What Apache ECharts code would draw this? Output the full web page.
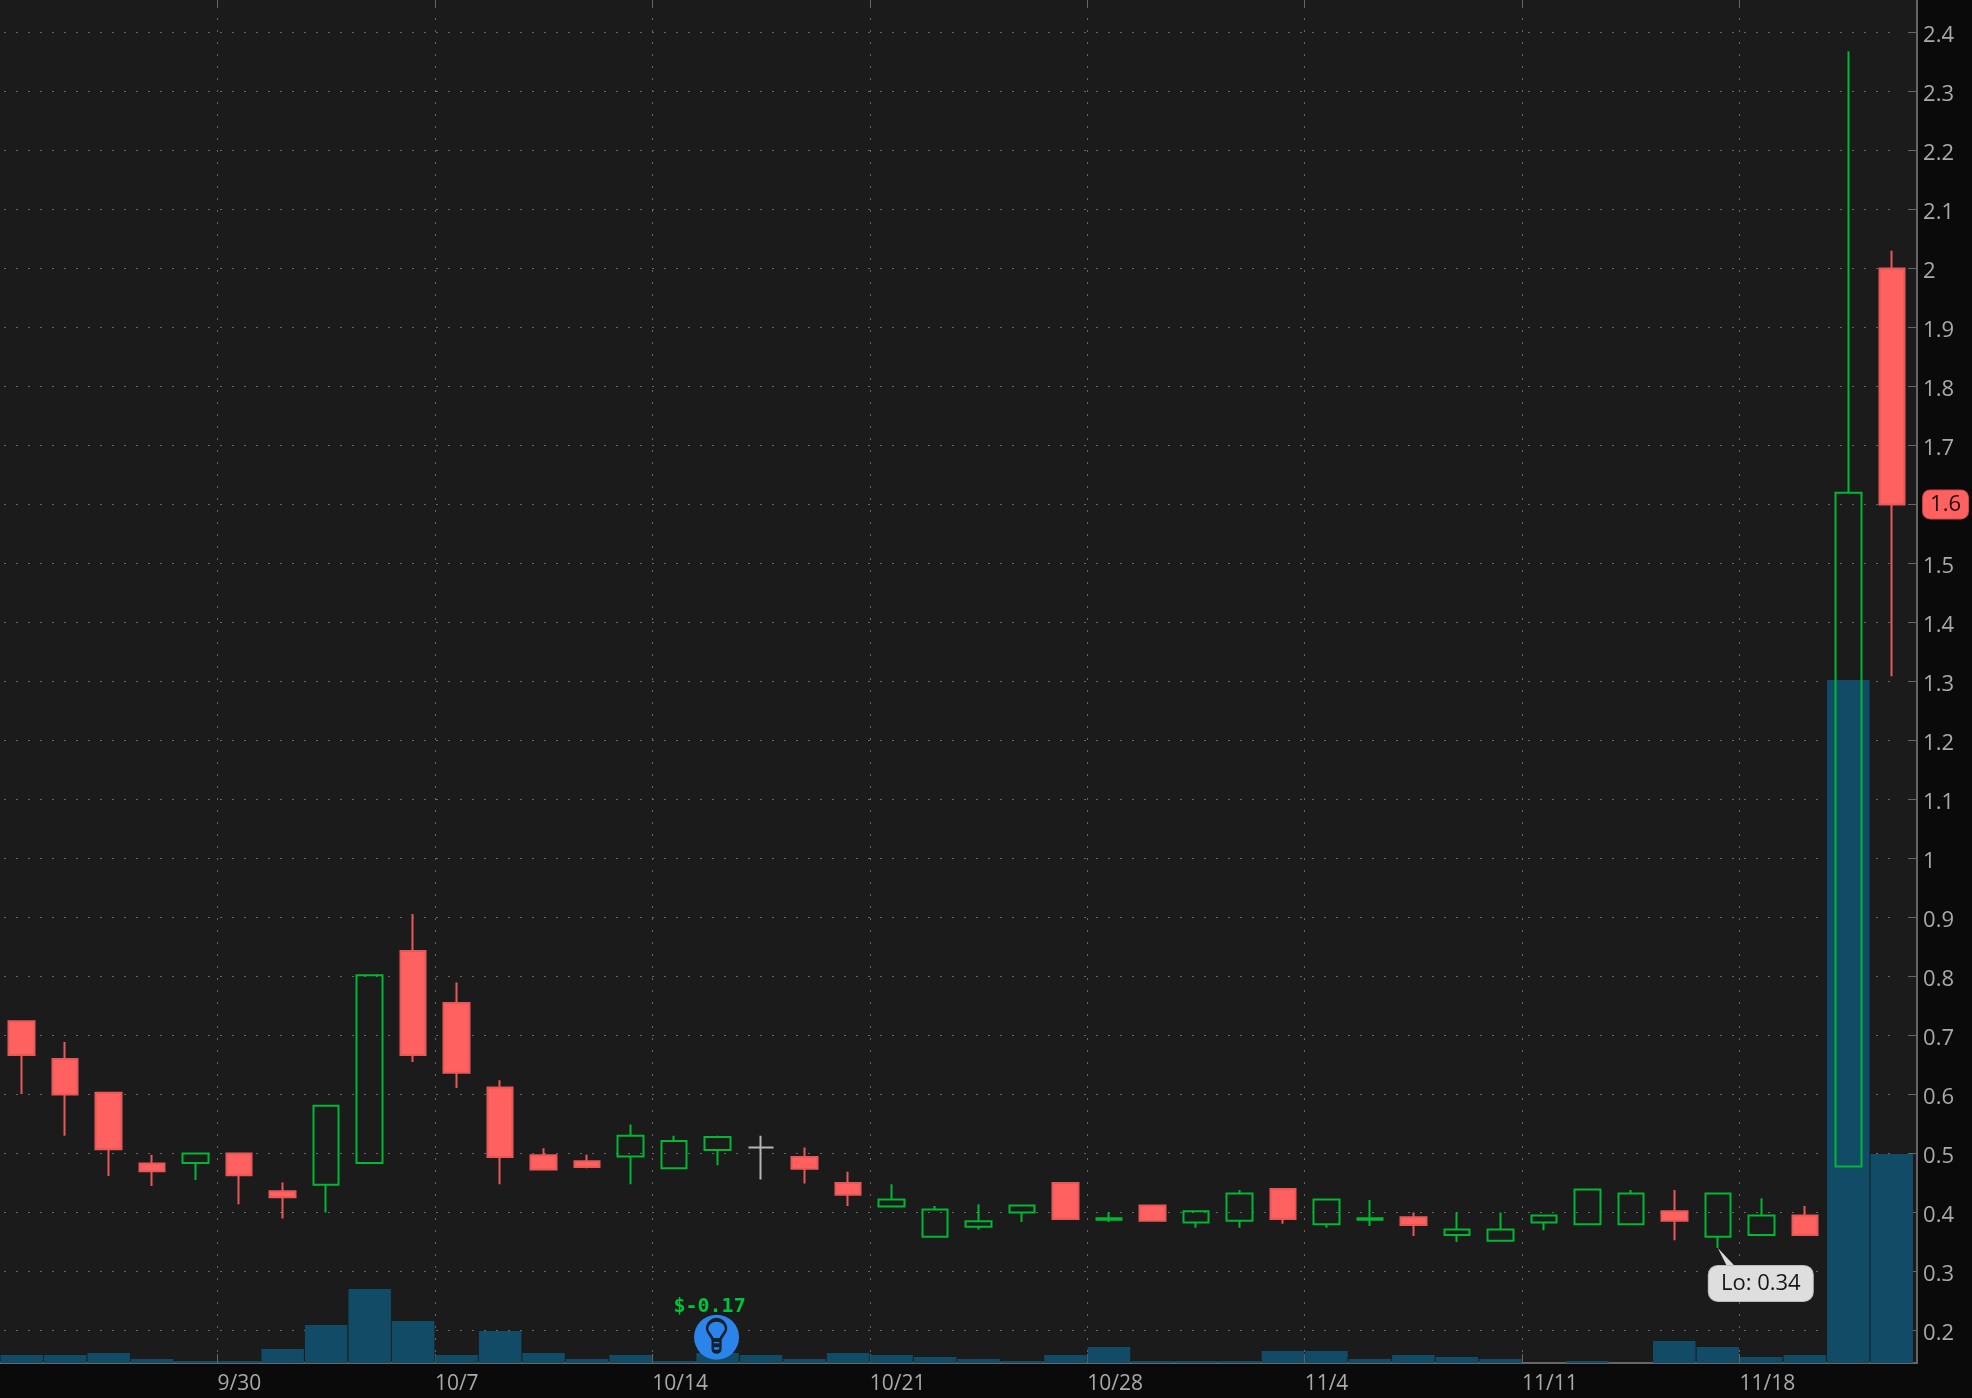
<!DOCTYPE html>
<html>
<head>
<meta charset="utf-8">
<style>html,body{margin:0;padding:0;background:#0a0a0a}#c{width:1972px;height:1398px}</style>
<script src="https://cdn.jsdelivr.net/npm/echarts@6/dist/echarts.min.js"></script>
</head>
<body>
<div id="c"></div>
<script>
const dates = ['9/23','9/24','9/25','9/26','9/27','9/30','10/1','10/2','10/3','10/4','10/7','10/8','10/9','10/10','10/11','10/14','10/15','10/16','10/17','10/18','10/21','10/22','10/23','10/24','10/25','10/28','10/29','10/30','10/31','11/1','11/4','11/5','11/6','11/7','11/8','11/11','11/12','11/13','11/14','11/15','11/18','11/19','11/20','11/21'];
const opens  = [.724,.66,.603,.483,.484,.50,.436,.447,.484,.843,.755,.612,.497,.487,.495,.475,.506,.51,.494,.45,.41,.359,.376,.40,.45,.3877,.412,.383,.386,.44,.38,.3877,.392,.362,.352,.383,.38,.38,.402,.359,.362,.395,.478,2.0];
const closes = [.667,.60,.507,.47,.50,.463,.426,.581,.802,.667,.637,.494,.473,.477,.53,.521,.528,.51,.474,.43,.422,.405,.385,.412,.389,.3903,.386,.402,.432,.389,.422,.3903,.379,.371,.371,.395,.439,.432,.386,.432,.395,.362,1.62,1.6];
const lows   = [.601,.53,.462,.445,.455,.414,.39,.40,.484,.655,.611,.448,.473,.475,.448,.475,.48,.456,.449,.411,.41,.359,.371,.384,.389,.384,.386,.374,.374,.381,.374,.377,.36,.35,.352,.37,.38,.38,.353,.34,.362,.362,.478,1.309];
const highs  = [.724,.689,.603,.498,.50,.50,.451,.581,.802,.906,.79,.624,.509,.498,.549,.53,.53,.53,.51,.469,.448,.411,.414,.412,.45,.40,.412,.402,.438,.44,.422,.421,.40,.40,.40,.395,.439,.438,.438,.432,.424,.411,2.368,2.03];
const volumes = [8,8,10,4,2,2,14,38,74,42,8,32,10,4,8,2,10,8,4,10,8,6,4,2,8,16,2,2,2,12,12,4,8,6,4,0,2,0,22,16,6,8,683,209];
const priceTicks = [0.2,0.3,0.4,0.5,0.6,0.7,0.8,0.9,1,1.1,1.2,1.3,1.4,1.5,1.6,1.7,1.8,1.9,2,2.1,2.2,2.3,2.4];
const lastPrice = 1.6;
const lowNote = {date:'11/15', value:0.34, text:'Lo: 0.34'};
const earningsNote = {date:'10/15', value:0.1886, text:'$-0.17'};

const priceMin = 0.1449, priceMax = 2.4550, volMax = 1363;
const candleData = dates.map((d,i)=>[opens[i],closes[i],lows[i],highs[i]]);
const edgeCats = dates.concat(['']);
const weekly = i => i>0 && i%5===0 && i<edgeCats.length-1;
const GRID = '#666666', TXT = '#a9a9a9', RED='#ff6060', REDB='#e95858', GREEN='#00b833';

const chart = echarts.init(document.getElementById('c'),null,{renderer:'canvas'});
chart.setOption({
  animation:false,
  backgroundColor:'#0a0a0a',
  textStyle:{fontFamily:'"Open Sans"'},
  grid:[
    {left:-2,width:1915.5,top:0,height:1363},
    {left:0,width:1919,top:0,height:1363,show:true,backgroundColor:'#1b1b1b',borderWidth:0},
    {left:0,width:1890,top:0,height:1363}
  ],
  xAxis:[
    {type:'category',gridIndex:0,data:dates,boundaryGap:true,show:false},
    {type:'category',gridIndex:0,data:edgeCats,boundaryGap:false,position:'bottom',
      axisLine:{show:false},
      axisTick:{show:true,inside:true,length:9,interval:weekly,lineStyle:{color:GRID,width:1}},
      axisLabel:{show:true,interval:weekly,align:'left',color:TXT,fontSize:21,margin:11,fontFamily:'"Open Sans"'},
      splitLine:{show:true,interval:weekly,lineStyle:{color:GRID,width:1,type:[2,10],dashOffset:6}}},
    {type:'category',gridIndex:0,data:edgeCats,boundaryGap:false,position:'top',
      axisLine:{show:false},axisLabel:{show:false},
      axisTick:{show:true,inside:true,length:7,interval:weekly,lineStyle:{color:GRID,width:1}}},
    {type:'value',gridIndex:1,min:0,max:1,position:'bottom',
      axisLine:{show:true,onZero:false,lineStyle:{color:GRID,width:2}},axisTick:{show:false},axisLabel:{show:false},splitLine:{show:false}},
    {type:'value',gridIndex:2,min:0,max:1,show:false,splitLine:{show:false}}
  ],
  yAxis:[
    {type:'value',gridIndex:0,min:priceMin,max:priceMax,show:false,splitLine:{show:false}},
    {type:'value',gridIndex:0,min:0,max:volMax,show:false,splitLine:{show:false}},
    {type:'value',gridIndex:1,min:priceMin,max:priceMax,position:'right',
      axisLine:{show:true,onZero:false,lineStyle:{color:GRID,width:2}},
      axisTick:{show:true,inside:true,length:9,customValues:priceTicks,lineStyle:{color:GRID,width:1}},
      axisLabel:{show:true,customValues:priceTicks,color:TXT,fontSize:22,margin:6,fontFamily:'"Open Sans"',
        formatter:v=> v===lastPrice ? '{hl|'+String(v)+'}' : '{n|'+String(v)+'}',
        rich:{
          n:{color:TXT,fontSize:22,fontFamily:'"Open Sans"',padding:[7,0,0,0]},
          hl:{color:'#1a0a0a',fontSize:22,fontFamily:'"Open Sans"',backgroundColor:RED,borderColor:'#c94a4a',borderWidth:1,borderRadius:7,padding:[3,7,3,7]}
        }},
      splitLine:{show:false}},
    {type:'value',gridIndex:2,min:priceMin,max:priceMax,position:'right',
      axisLine:{show:false},axisLabel:{show:false},
      axisTick:{show:false,customValues:priceTicks},
      splitLine:{show:true,lineStyle:{color:GRID,width:1,type:[2,10],dashOffset:8}}}
  ],
  series:[
    {type:'bar',name:'Volume',xAxisIndex:0,yAxisIndex:1,data:volumes,barWidth:42.5,z:2,
      itemStyle:{color:'#124b66'},silent:true},
    {type:'candlestick',name:'Price',xAxisIndex:0,yAxisIndex:0,data:candleData,barWidth:26,z:3,
      itemStyle:{color:'rgba(0,0,0,0)',color0:RED,borderColor:GREEN,borderColor0:REDB,borderColorDoji:'#b5b5b5',borderWidth:2},
      markPoint:{silent:true,animation:false,data:[
        {coord:[lowNote.date,lowNote.value],symbol:'path://M0,0L8.5,17L16,17Z',symbolSize:[16,17],symbolKeepAspect:false,symbolOffset:[8,8.5],
          itemStyle:{color:'#dcdcdc'},
          label:{show:true,position:'inside',offset:[35,27],formatter:lowNote.text,color:'#161616',fontSize:22,fontFamily:'"Open Sans"',
            backgroundColor:'#dedede',borderColor:'#bdbdbd',borderWidth:1,borderRadius:9,width:104,height:35,lineHeight:37,align:'center',verticalAlign:'middle'}},
        {coord:[earningsNote.date,earningsNote.value],symbol:'circle',symbolSize:45,symbolOffset:[-1,0],
          itemStyle:{color:'#2b84ea'},
          label:{show:true,position:'top',distance:-2,offset:[-7,0],formatter:earningsNote.text,color:'#00c43a',fontSize:20,fontWeight:'bold',fontFamily:'"DejaVu Sans Mono"'}},
        {coord:[earningsNote.date,earningsNote.value],symbol:'path://M5,19C5,15 0,13 0,8.5C0,3.8 3.8,0 8.5,0C13.2,0 17,3.8 17,8.5C17,13 12,15 12,19ZM5,19L5,27C5,29 6,30 8,30L9,30C11,30 12,29 12,27L12,19M5,24L12,24',
          symbolSize:[19,32],symbolOffset:[-1,-1.5],
          itemStyle:{color:'rgba(0,0,0,0)',borderColor:'#15202e',borderWidth:3},label:{show:false}}
      ]}}
  ]
});
</script>
</body>
</html>
